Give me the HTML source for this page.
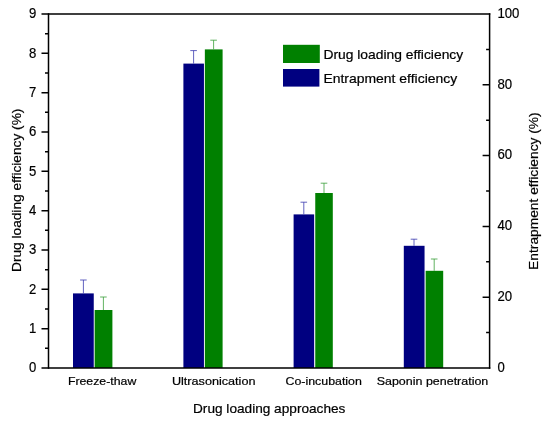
<!DOCTYPE html>
<html lang="en"><head><meta charset="utf-8"><title>Drug loading chart</title>
<style>html,body{margin:0;padding:0;background:#fff}svg{display:block}</style></head>
<body>
<svg width="550" height="422" viewBox="0 0 550 422">
<rect width="550" height="422" fill="#fff"/>
<rect x="73.0" y="293.4" width="20.75" height="74.6" fill="#000080"/>
<rect x="94.65" y="310.0" width="17.75" height="58.0" fill="#008000"/>
<path d="M83.4 293.4V280.0M80.1 280.0H86.7" stroke="#3a3ab0" stroke-width="0.8" fill="none"/>
<path d="M103.4 310.0V297.0M100.1 297.0H106.7" stroke="#3aa03a" stroke-width="0.8" fill="none"/>
<rect x="183.4" y="63.6" width="20.55" height="304.4" fill="#000080"/>
<rect x="204.85" y="49.4" width="17.75" height="318.6" fill="#008000"/>
<path d="M193.6 63.6V50.6M190.3 50.6H196.9" stroke="#3a3ab0" stroke-width="0.8" fill="none"/>
<path d="M213.6 49.4V40.2M210.3 40.2H216.9" stroke="#3aa03a" stroke-width="0.8" fill="none"/>
<rect x="293.6" y="214.4" width="20.55" height="153.6" fill="#000080"/>
<rect x="315.25" y="193.0" width="17.55" height="175.0" fill="#008000"/>
<path d="M303.8 214.4V202.2M300.5 202.2H307.1" stroke="#3a3ab0" stroke-width="0.8" fill="none"/>
<path d="M324.0 193.0V183.2M320.7 183.2H327.3" stroke="#3aa03a" stroke-width="0.8" fill="none"/>
<rect x="403.8" y="245.8" width="20.75" height="122.2" fill="#000080"/>
<rect x="425.65" y="270.8" width="17.55" height="97.2" fill="#008000"/>
<path d="M414.0 245.8V239.2M410.7 239.2H417.3" stroke="#3a3ab0" stroke-width="0.8" fill="none"/>
<path d="M434.2 270.8V259.0M430.9 259.0H437.5" stroke="#3aa03a" stroke-width="0.8" fill="none"/>
<g stroke="#000" fill="none">
<path d="M48.5 13.2V368.8M489.6 13.2V368.8" stroke-width="1.5"/>
<path d="M41.5 14.0H490.3M41.5 368.0H490.3" stroke-width="1.6"/>
<path d="M41.5 328.7H48.5M41.5 289.3H48.5M41.5 250.0H48.5M41.5 210.7H48.5M41.5 171.3H48.5M41.5 132.0H48.5M41.5 92.7H48.5M41.5 53.3H48.5M45.0 348.3H48.5M45.0 309.0H48.5M45.0 269.7H48.5M45.0 230.3H48.5M45.0 191.0H48.5M45.0 151.7H48.5M45.0 112.3H48.5M45.0 73.0H48.5M45.0 33.7H48.5M482.6 297.2H489.6M482.6 226.4H489.6M482.6 155.6H489.6M482.6 84.8H489.6M486.1 332.6H489.6M486.1 261.8H489.6M486.1 191.0H489.6M486.1 120.2H489.6M486.1 49.4H489.6" stroke-width="1.5"/>
</g>
<g font-family="'Liberation Sans', sans-serif" font-size="12.8" fill="#000" stroke="#000" stroke-width="0.2">
<text x="36.2" y="372.3" text-anchor="end" font-size="14" textLength="7.3" lengthAdjust="spacingAndGlyphs">0</text>
<text x="36.2" y="333.0" text-anchor="end" font-size="14" textLength="7.3" lengthAdjust="spacingAndGlyphs">1</text>
<text x="36.2" y="293.6" text-anchor="end" font-size="14" textLength="7.3" lengthAdjust="spacingAndGlyphs">2</text>
<text x="36.2" y="254.3" text-anchor="end" font-size="14" textLength="7.3" lengthAdjust="spacingAndGlyphs">3</text>
<text x="36.2" y="215.0" text-anchor="end" font-size="14" textLength="7.3" lengthAdjust="spacingAndGlyphs">4</text>
<text x="36.2" y="175.6" text-anchor="end" font-size="14" textLength="7.3" lengthAdjust="spacingAndGlyphs">5</text>
<text x="36.2" y="136.3" text-anchor="end" font-size="14" textLength="7.3" lengthAdjust="spacingAndGlyphs">6</text>
<text x="36.2" y="97.0" text-anchor="end" font-size="14" textLength="7.3" lengthAdjust="spacingAndGlyphs">7</text>
<text x="36.2" y="57.6" text-anchor="end" font-size="14" textLength="7.3" lengthAdjust="spacingAndGlyphs">8</text>
<text x="36.2" y="18.3" text-anchor="end" font-size="14" textLength="7.3" lengthAdjust="spacingAndGlyphs">9</text>
<text x="497.4" y="371.8" font-size="14" textLength="7.3" lengthAdjust="spacingAndGlyphs">0</text>
<text x="497.4" y="301.0" font-size="14" textLength="14.7" lengthAdjust="spacingAndGlyphs">20</text>
<text x="497.4" y="230.2" font-size="14" textLength="14.7" lengthAdjust="spacingAndGlyphs">40</text>
<text x="497.4" y="159.4" font-size="14" textLength="14.7" lengthAdjust="spacingAndGlyphs">60</text>
<text x="497.4" y="88.6" font-size="14" textLength="14.7" lengthAdjust="spacingAndGlyphs">80</text>
<text x="497.4" y="17.8" font-size="14" textLength="22.0" lengthAdjust="spacingAndGlyphs">100</text>
<text x="67.9" y="385.4" font-size="11.2" textLength="68.4" lengthAdjust="spacingAndGlyphs">Freeze-thaw</text>
<text x="171.9" y="385.4" font-size="11.2" textLength="83.6" lengthAdjust="spacingAndGlyphs">Ultrasonication</text>
<text x="285.5" y="385.4" font-size="11.2" textLength="76.4" lengthAdjust="spacingAndGlyphs">Co-incubation</text>
<text x="376.7" y="385.4" font-size="11.2" textLength="111.6" lengthAdjust="spacingAndGlyphs">Saponin penetration</text>
<text x="193.0" y="412.9" textLength="152.4" lengthAdjust="spacingAndGlyphs">Drug loading approaches</text>
<text transform="translate(20.9 272) rotate(-90)" textLength="163.4" lengthAdjust="spacingAndGlyphs">Drug loading efficiency (%)</text>
<text transform="translate(538.1 269.9) rotate(-90)" textLength="157.6" lengthAdjust="spacingAndGlyphs">Entrapment efficiency (%)</text>
<text x="323.4" y="59.1" textLength="139.8" lengthAdjust="spacingAndGlyphs">Drug loading efficiency</text>
<text x="323.4" y="82.5" textLength="133.8" lengthAdjust="spacingAndGlyphs">Entrapment efficiency</text>
</g>
<rect x="283" y="44.8" width="36.8" height="18.2" fill="#008000"/>
<rect x="283" y="69" width="36.4" height="17.6" fill="#000080"/>
</svg>
</body></html>
